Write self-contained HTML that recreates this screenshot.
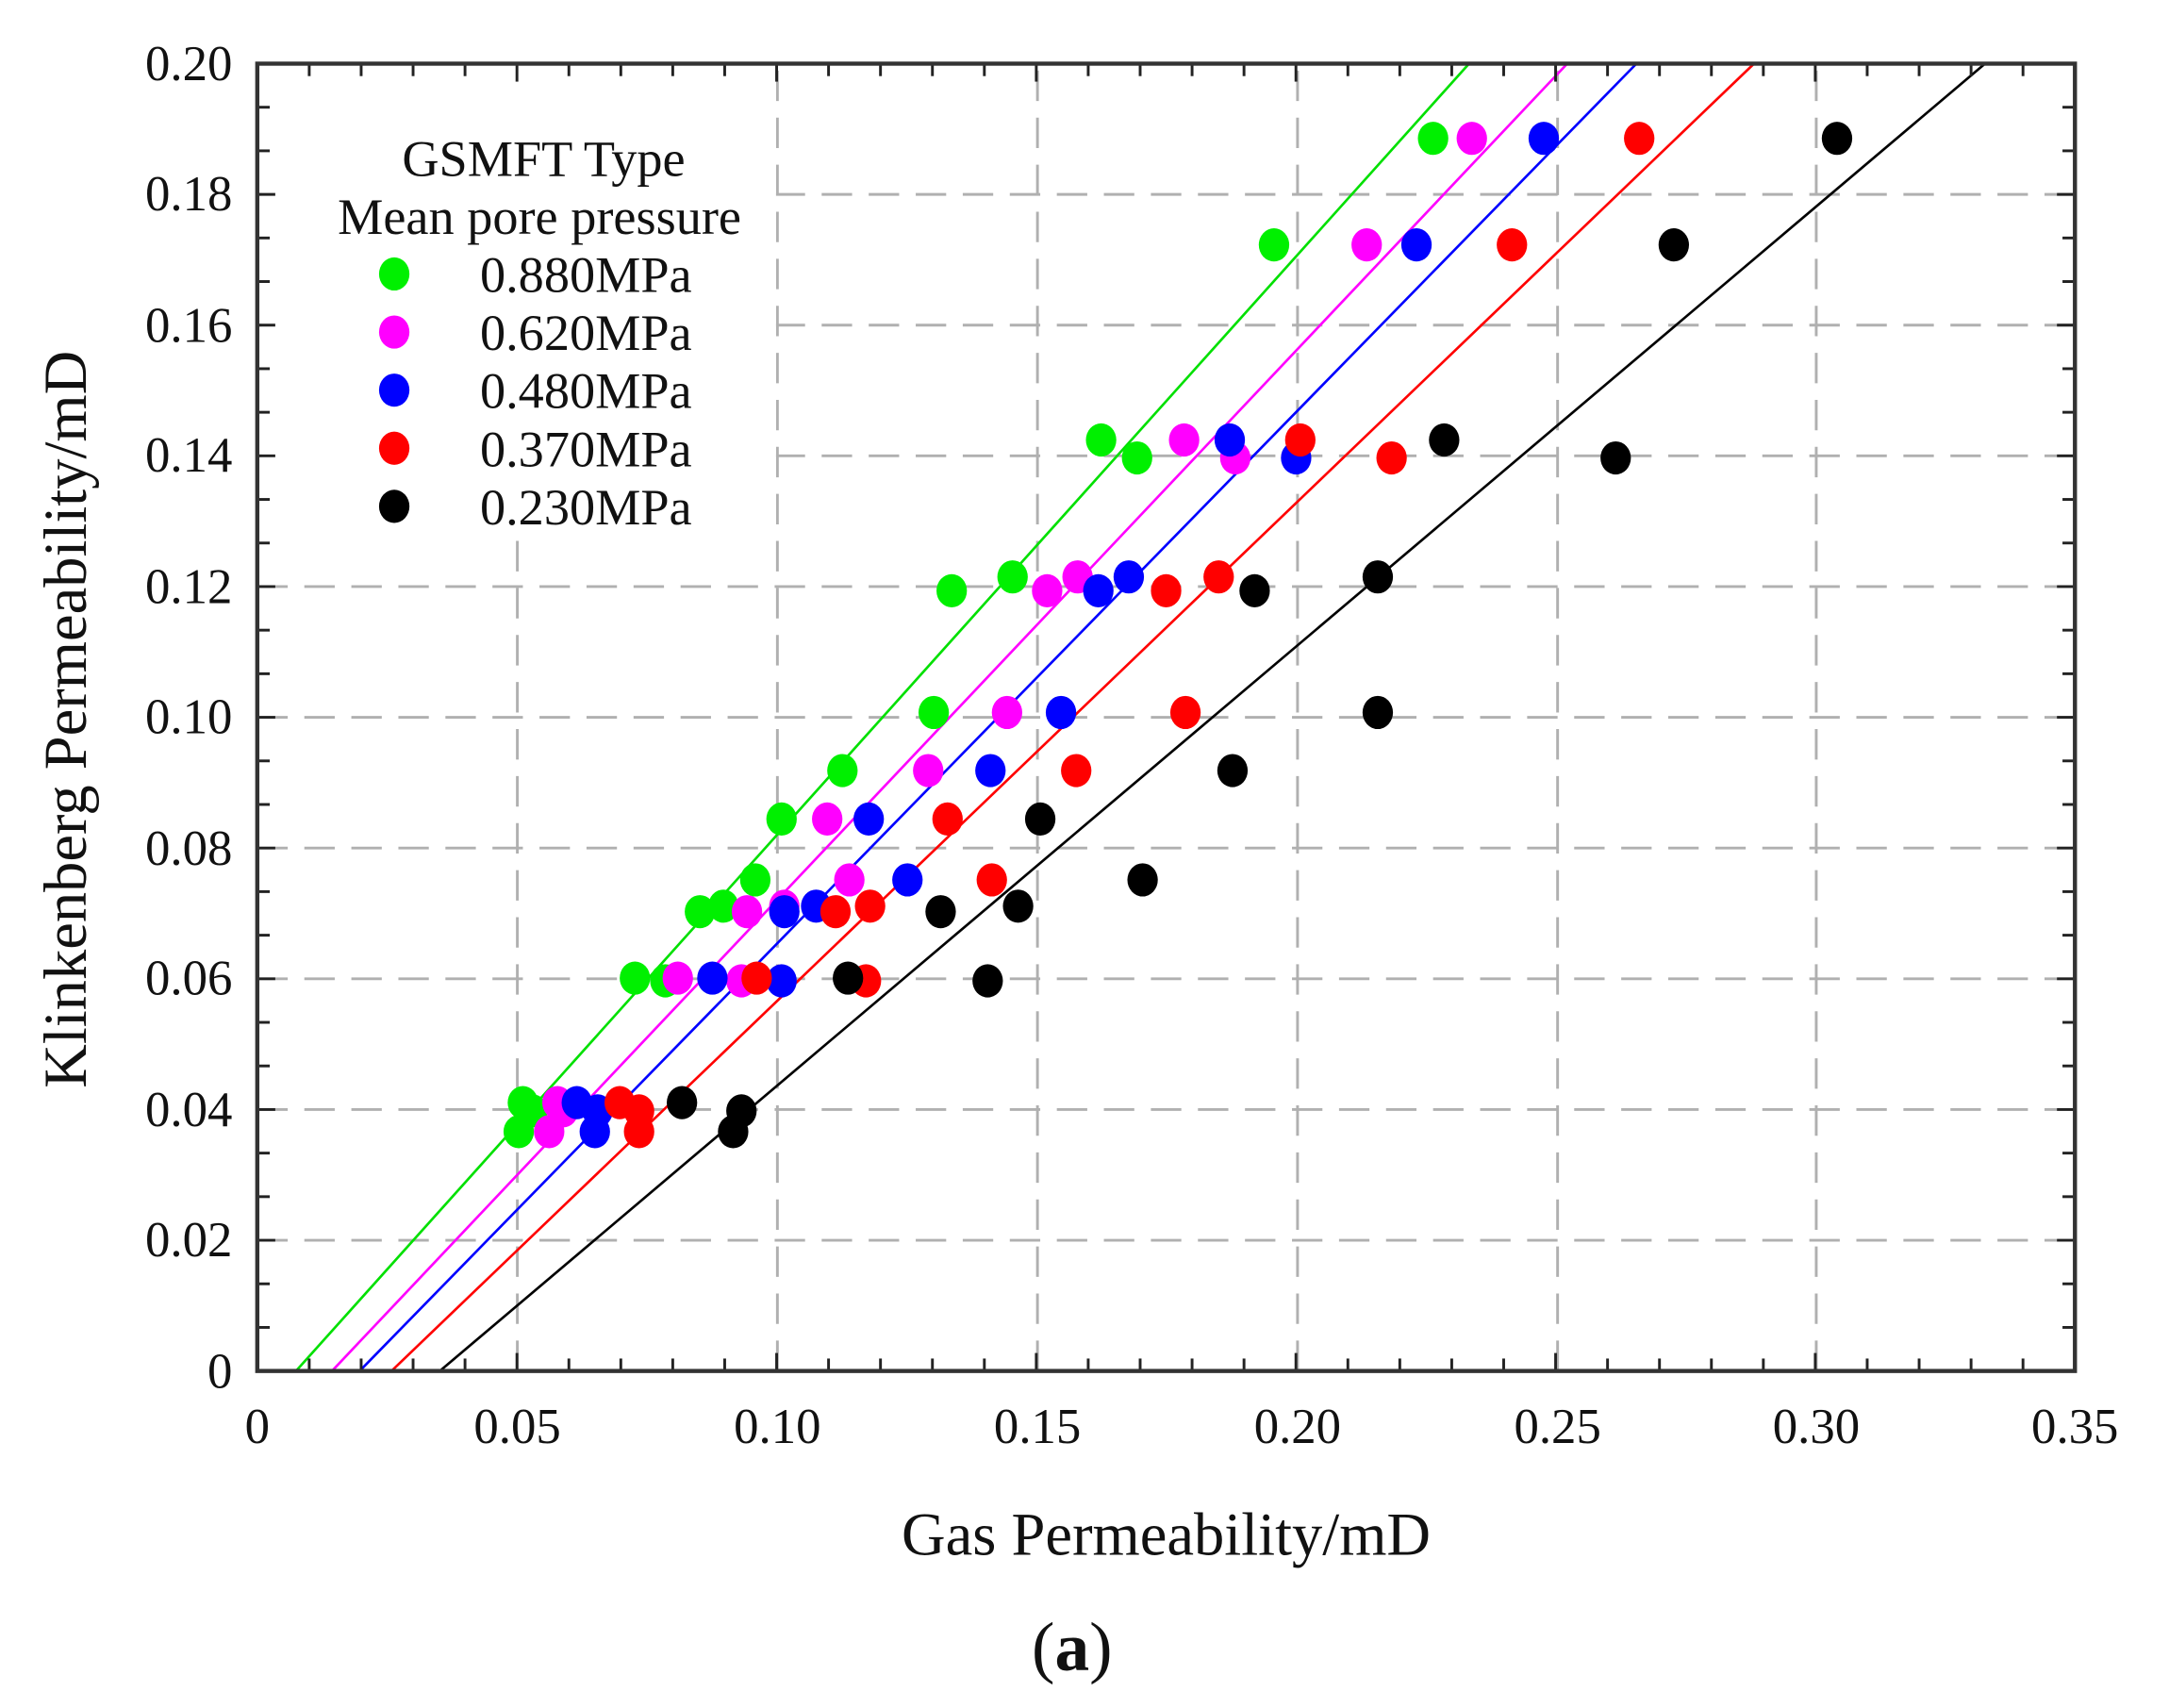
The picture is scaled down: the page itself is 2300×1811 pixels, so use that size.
<!DOCTYPE html>
<html><head><meta charset="utf-8"><style>html,body{margin:0;padding:0;background:#fff}svg{display:block}</style></head>
<body>
<svg width="2300" height="1811" viewBox="0 0 1568 1234.6" xmlns="http://www.w3.org/2000/svg" font-family="Liberation Serif, serif">
<rect width="1568" height="1235" fill="#fff"/>
<g id="grid" stroke="#b0b0b0" stroke-width="2" stroke-dasharray="22,12" fill="none">
<line x1="374" y1="991" x2="374" y2="46"/>
<line x1="562" y1="991" x2="562" y2="46"/>
<line x1="750" y1="991" x2="750" y2="46"/>
<line x1="938" y1="991" x2="938" y2="46"/>
<line x1="1126" y1="991" x2="1126" y2="46"/>
<line x1="1313" y1="991" x2="1313" y2="46"/>
<line x1="186" y1="896.5" x2="1500" y2="896.5"/>
<line x1="186" y1="802" x2="1500" y2="802"/>
<line x1="186" y1="707.5" x2="1500" y2="707.5"/>
<line x1="186" y1="613" x2="1500" y2="613"/>
<line x1="186" y1="518.5" x2="1500" y2="518.5"/>
<line x1="186" y1="424" x2="1500" y2="424"/>
<line x1="186" y1="329.5" x2="1500" y2="329.5"/>
<line x1="186" y1="235" x2="1500" y2="235"/>
<line x1="186" y1="140.5" x2="1500" y2="140.5"/>
</g>
<rect x="189" y="49" width="372" height="340" fill="#fff"/>
<g stroke-width="1.8" fill="none">
<line x1="214" y1="991" x2="1062" y2="46" stroke="#00e000"/>
<line x1="240" y1="991" x2="1133" y2="46" stroke="#ff00ff"/>
<line x1="260" y1="991" x2="1183" y2="46" stroke="#0000ff"/>
<line x1="283" y1="991" x2="1268" y2="46" stroke="#ff0000"/>
<line x1="318" y1="991" x2="1435" y2="46" stroke="#000"/>
</g>
<g id="ticks" stroke="#222" stroke-width="2"></g>
<g id="pts"></g>
<rect x="186" y="46" width="1314" height="945" fill="none" stroke="#333" stroke-width="3"/>
<g font-size="36" fill="#111" text-anchor="end">
<text x="168" y="1003">0</text>
<text x="168" y="908">0.02</text>
<text x="168" y="814">0.04</text>
<text x="168" y="719">0.06</text>
<text x="168" y="625">0.08</text>
<text x="168" y="530">0.10</text>
<text x="168" y="436">0.12</text>
<text x="168" y="341">0.14</text>
<text x="168" y="247">0.16</text>
<text x="168" y="152">0.18</text>
<text x="168" y="58">0.20</text>
</g>
<g font-size="36" fill="#111" text-anchor="middle">
<text x="186" y="1043">0</text>
<text x="374" y="1043">0.05</text>
<text x="562" y="1043">0.10</text>
<text x="750" y="1043">0.15</text>
<text x="938" y="1043">0.20</text>
<text x="1126" y="1043">0.25</text>
<text x="1313" y="1043">0.30</text>
<text x="1500" y="1043">0.35</text>
</g>
<text x="843" y="1124" font-size="44" text-anchor="middle" fill="#111">Gas Permeability/mD</text>
<text transform="translate(62,520) rotate(-90)" font-size="44" text-anchor="middle" fill="#111">Klinkenberg Permeability/mD</text>
<text x="775" y="1207" font-size="50" text-anchor="middle" fill="#111">(<tspan font-weight="bold">a</tspan>)</text>
<g font-size="37" fill="#111">
<text x="393" y="127" text-anchor="middle">GSMFT Type</text>
<text x="390" y="169" text-anchor="middle">Mean pore pressure</text>
<text x="347" y="211">0.880MPa</text>
<text x="347" y="253">0.620MPa</text>
<text x="347" y="295">0.480MPa</text>
<text x="347" y="337">0.370MPa</text>
<text x="347" y="379">0.230MPa</text>
</g>
<ellipse cx="285" cy="198" rx="11" ry="12" fill="#00f000"/>
<ellipse cx="285" cy="240" rx="11" ry="12" fill="#ff00ff"/>
<ellipse cx="285" cy="282" rx="11" ry="12" fill="#0000ff"/>
<ellipse cx="285" cy="324" rx="11" ry="12" fill="#ff0000"/>
<ellipse cx="285" cy="366" rx="11" ry="12" fill="#000"/>
</svg>
<script>
var NS="http://www.w3.org/2000/svg";
var t=document.getElementById("ticks");
function ln(a,b,c,d){var l=document.createElementNS(NS,"line");l.setAttribute("x1",a);l.setAttribute("y1",b);l.setAttribute("x2",c);l.setAttribute("y2",d);t.appendChild(l);}
for(var i=1;i<35;i++){var x=186+1314*i/35;var L=(i%5==0)?13:9;ln(x,991,x,991-L);ln(x,46,x,46+L);}
for(var j=1;j<30;j++){var y=991-945*j/30;var L=(j%3==0)?13:9;ln(186,y,186+L,y);ln(1500,y,1500-L,y);}
var S={
"#00f000":[[378,797],[385,803],[375,818],[459,707],[481,709],[506,659],[523,655],[546,636],[565,592],[609,557],[675,515],[688,427],[732,417],[796,318],[822,331],[921,177],[1036,100]],
"#ff00ff":[[403,797],[397,818],[407,803],[490,707],[536,709],[540,659],[567,655],[614,636],[598,592],[671,557],[728,515],[757,427],[779,417],[856,318],[893,331],[988,177],[1064,100]],
"#0000ff":[[417,797],[430,818],[432,803],[515,707],[565,709],[567,659],[590,655],[656,636],[628,592],[716,557],[767,515],[794,427],[816,417],[889,318],[937,331],[1024,177],[1116,100]],
"#ff0000":[[448,797],[462,818],[462,803],[547,707],[626,709],[604,659],[629,655],[717,636],[685,592],[778,557],[857,515],[843,427],[881,417],[940,318],[1006,331],[1093,177],[1185,100]],
"#000000":[[493,797],[530,818],[536,803],[613,707],[714,709],[680,659],[736,655],[826,636],[752,592],[891,557],[996,515],[907,427],[996,417],[1044,318],[1168,331],[1210,177],[1328,100]]};
var g=document.getElementById("pts");
for(var c in S){S[c].forEach(function(p){var e=document.createElementNS(NS,"ellipse");e.setAttribute("cx",p[0]);e.setAttribute("cy",p[1]);e.setAttribute("rx",11);e.setAttribute("ry",12);e.setAttribute("fill",c);g.appendChild(e);});}
</script>
</body></html>
